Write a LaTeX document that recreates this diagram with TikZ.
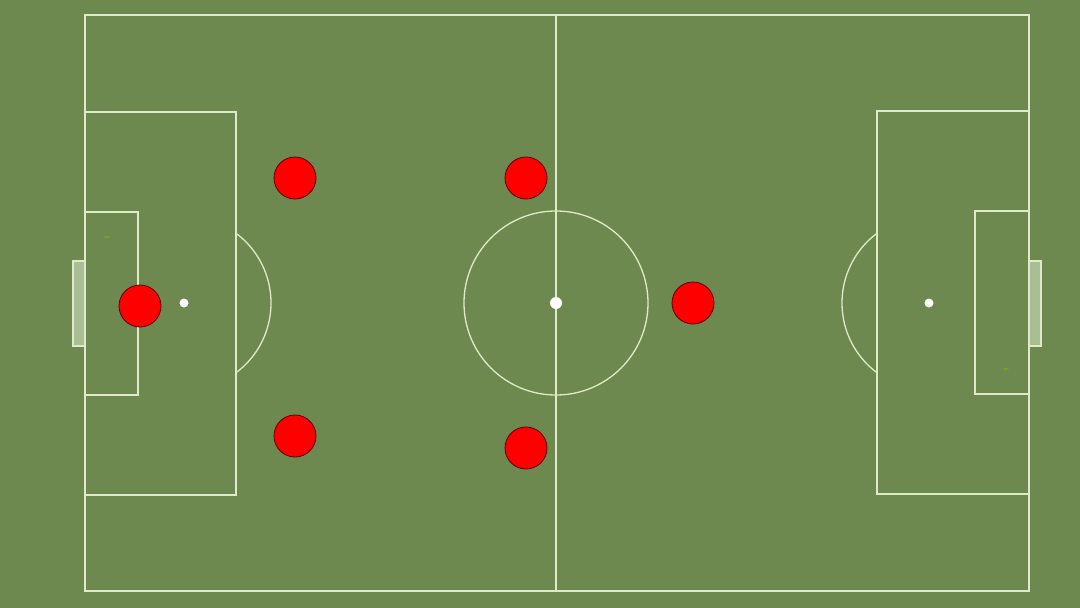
\documentclass[tikz,border=0pt]{standalone}
\definecolor{grass}{RGB}{110,137,80}
\definecolor{chalk}{RGB}{222,234,200}
\definecolor{goalfill}{RGB}{170,190,150}
\definecolor{markgreen}{RGB}{120,160,30}
\definecolor{player}{RGB}{255,0,0}
\definecolor{playerline}{RGB}{90,0,0}
\begin{document}
\begin{tikzpicture}[x=1pt,y=-1pt,
  pitchline/.style={draw=chalk,line width=1.6pt},
  spot/.style={circle,fill=white,inner sep=0pt},
  playernode/.style={circle,fill=player,draw=playerline,line width=0.8pt,minimum size=42pt,inner sep=0pt}]
\useasboundingbox (0,0) rectangle (1080,608);
\fill[grass] (0,0) rectangle (1080,608);
% outline and halfway line
\draw[pitchline] (85,15) rectangle (1029,591);
\draw[pitchline] (556,15) -- (556,591);
% center circle
\draw[pitchline,line width=1.3pt] (556,303) circle[radius=92];
\node[spot,minimum size=12pt] (cspot) at (556,303) {};
% left side
\draw[pitchline] (85,112) rectangle (236,495);
\draw[pitchline] (85,212) rectangle (138,395);
\draw[draw=chalk,fill=goalfill,line width=1.3pt] (73,261) rectangle (85,346);
\node[spot,minimum size=9pt] (lspot) at (184,303) {};
\begin{scope}
\clip (236,0) rectangle (400,608);
\draw[pitchline,line width=1.3pt] (184,303) circle[radius=87];
\end{scope}
% right side
\draw[pitchline] (877,111) rectangle (1029,494);
\draw[pitchline] (975,211) rectangle (1029,394);
\draw[draw=chalk,fill=goalfill,line width=1.3pt] (1029,261) rectangle (1041,346);
\node[spot,minimum size=9pt] (rspot) at (929,303) {};
\begin{scope}
\clip (700,0) rectangle (877,608);
\draw[pitchline,line width=1.3pt] (929,303) circle[radius=87];
\end{scope}
% tiny marks
\fill[markgreen] (107,237) ellipse[x radius=3, y radius=1.2];
\fill[markgreen] (1006,369) ellipse[x radius=3, y radius=1.2];
% players
\node[playernode] (p1) at (140,306) {};
\node[playernode] (p2) at (295,178) {};
\node[playernode] (p3) at (295,436) {};
\node[playernode] (p4) at (526,178) {};
\node[playernode] (p5) at (526,448) {};
\node[playernode] (p6) at (693,303) {};
\end{tikzpicture}
\end{document}
